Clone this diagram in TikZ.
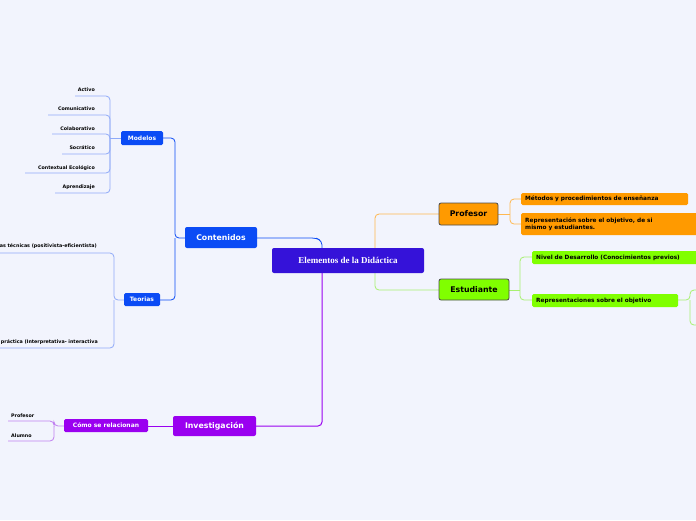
\documentclass[tikz,border=0pt]{standalone}
\usepackage{fontspec}
\setmainfont{DejaVu Sans}
\newfontfamily\serifb{Liberation Serif}
\definecolor{bg}{HTML}{F2F4FD}
\definecolor{cblue}{HTML}{0B4BF5}
\definecolor{lblue}{HTML}{8FAAF8}
\definecolor{cpurp}{HTML}{9A00F0}
\definecolor{lpurp}{HTML}{C080F0}
\definecolor{corg}{HTML}{FF9A00}
\definecolor{lorg}{HTML}{FFB850}
\definecolor{cgrn}{HTML}{80FF00}
\definecolor{lgrn}{HTML}{A8F070}
\definecolor{cmain}{HTML}{3512D9}
\tikzset{x=1pt,y=-1pt,
 box/.style={rounded corners=2pt,inner sep=0pt,font=\bfseries\fontsize{7.8}{9}\selectfont},
 sub/.style={rounded corners=1.5pt,inner sep=0pt,font=\bfseries\fontsize{6}{7}\selectfont,text=white},
 leaf/.style={inner sep=0pt,font=\bfseries\fontsize{4.8}{5.5}\selectfont,anchor=east},
 rlf/.style={rounded corners=1.5pt,inner sep=0pt,font=\bfseries\fontsize{5.8}{7}\selectfont,anchor=west,align=left},
 rc/.style={rounded corners=4pt,line width=0.8pt}}
\begin{document}
\begin{tikzpicture}
\useasboundingbox (0,0) rectangle (696,520);
\clip (0,0) rectangle (696,520);
\fill[bg] (0,0) rectangle (696,520);
\draw[cblue,rc] (322,248) -- (322,241) -- (316,238) -- (257,238);
\draw[cpurp,rc,line width=1pt] (322,273) -- (322,426) -- (256,426);
\draw[lorg,rc] (375,248) -- (375,214) -- (439,214);
\draw[lgrn,rc] (375,273) -- (375,290) -- (439,290);
\draw[cblue,rc] (185,238) -- (175,238) -- (175,138) -- (163,138);
\draw[cblue,rc] (175,238) -- (175,300) -- (160,300);
\draw[lblue,rc] (121,138) -- (110,138);
\draw[lblue,rc] (110,138) -- (110,96) -- (75,96);
\draw[lblue,rc] (110,138) -- (110,193) -- (55,193);
\foreach \y/\x in {115/48,134/52,154/62,173/25}{\draw[lblue,rc] (110,138) -- (110,\y) -- (\x,\y);}
\draw[lblue,rc] (124,300) -- (114,300) -- (114,253) -- (0,253);
\draw[lblue,rc] (114,300) -- (114,348) -- (0,348);
\draw[cpurp,line width=0.8pt] (173,426) -- (148,426);
\draw[lpurp,rc] (64,426) -- (54,426) -- (54,421) -- (8,421);
\draw[lpurp,rc] (54,426) -- (54,441) -- (8,441);
\draw[lorg,rc] (521,199) -- (510,199) -- (510,224) -- (521,224);
\draw[lorg,line width=0.8pt] (498,214) -- (510,214);
\draw[lgrn,rc] (532,257) -- (520,257) -- (520,300) -- (532,300);
\draw[lgrn,line width=0.8pt] (509,290) -- (520,290);
\draw[lgrn,rc] (678,300) -- (690,300) -- (690,290) -- (700,290);
\draw[lgrn,rc] (690,300) -- (690,325) -- (700,325);
\node[fill=cmain,rounded corners=2pt,minimum width=152,minimum height=25,text=white,font=\serifb\bfseries\fontsize{9}{10}\selectfont] (main) at (348,260.5) {Elementos de la Didáctica};
\node[box,fill=cblue,text=white,minimum width=72,minimum height=21] (cont) at (221,237.5) {Contenidos};
\node[box,fill=cpurp,text=white,minimum width=83,minimum height=20] (inv) at (214.5,426) {Investigación};
\node[box,fill=corg,draw=black!70,line width=0.8pt,minimum width=59,minimum height=22] (prof) at (468.5,214) {Profesor};
\node[box,fill=cgrn,draw=black!70,line width=0.8pt,minimum width=70,minimum height=21] (est) at (474,289.5) {Estudiante};
\node[sub,fill=cblue,minimum width=42,minimum height=14] (mod) at (142,138) {Modelos};
\node[sub,fill=cblue,minimum width=36,minimum height=13] (teo) at (142,299.5) {Teorias};
\node[sub,fill=cpurp,minimum width=84,minimum height=13] (como) at (106,425.5) {Cómo se relacionan};
\node[leaf] at (95,90) {Activo};
\node[leaf] at (95,109) {Comunicativo};
\node[leaf] at (95,129) {Colaborativo};
\node[leaf] at (95,148) {Socrático};
\node[leaf] at (95,168) {Contextual Ecológico};
\node[leaf] at (95,187.5) {Aprendizaje};
\node[leaf] at (97,246.5) {Teorías técnicas (positivista-eficientista)};
\node[leaf] at (98,342.5) {Teoría práctica (Interpretativa- interactiva};
\node[leaf,anchor=west] at (11,415.5) {Profesor};
\node[leaf,anchor=west] at (11,436) {Alumno};
\node[rlf,fill=corg,minimum height=12,text width=159,inner xsep=4pt] at (521,199) {Métodos y procedimientos de enseñanza};
\node[rlf,fill=corg,minimum height=22,text width=180,inner xsep=4pt] at (521,224) {Representación sobre el objetivo, de si\\mismo y estudiantes.};
\node[rlf,fill=cgrn,minimum height=13,text width=190,inner xsep=4pt] at (532,257.5) {Nivel de Desarrollo (Conocimientos previos)};
\node[rlf,fill=cgrn,minimum height=13,text width=138,inner xsep=4pt] at (532,300.5) {Representaciones sobre el objetivo};
\end{tikzpicture}
\end{document}
